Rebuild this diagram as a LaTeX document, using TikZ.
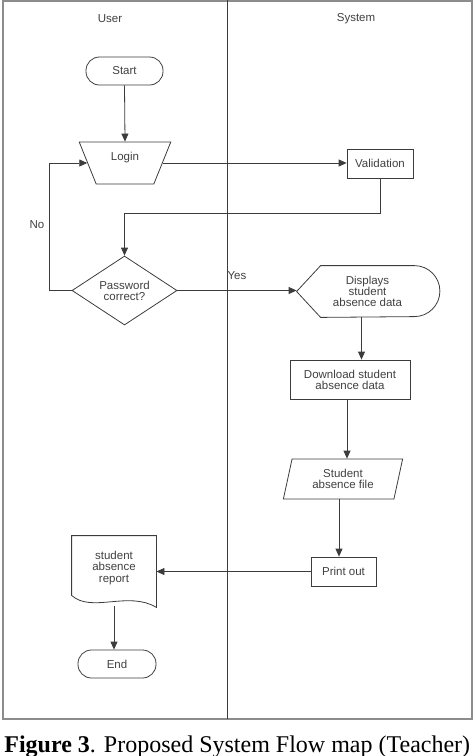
\documentclass[tikz,border=0pt]{standalone}
\usepackage{fontspec}
\newfontfamily\flowfont{Liberation Sans}
\newfontfamily\capfont{Liberation Serif}
\usepackage{tikz}
\usetikzlibrary{arrows.meta,shapes.geometric}
\definecolor{linegray}{HTML}{3C3C3C}
\definecolor{textgray}{HTML}{404040}
\definecolor{framegray}{HTML}{8C8C8C}

\begin{document}
\begin{tikzpicture}[x=1pt, y=-1pt, line width=0.8pt, color=linegray,
  every node/.style={font=\flowfont\fontsize{11.5}{11.2}\selectfont, text=textgray, align=center, inner sep=1pt},
  terminal/.style={draw, rectangle, rounded corners=13.5pt, minimum width=77pt, minimum height=28pt},
  process/.style={draw, rectangle, minimum height=29pt},
  manual/.style={draw, trapezium, trapezium angle=70, shape border rotate=180, trapezium stretches=true, minimum width=92pt, minimum height=42pt},
  decision/.style={draw, diamond, aspect=1.52, minimum width=105pt, minimum height=69pt},
  datain/.style={draw, trapezium, trapezium left angle=76, trapezium right angle=104, trapezium stretches=true, minimum width=120pt, minimum height=40pt},
  arr/.style={-{Triangle[length=8pt,width=7pt]}}]
\useasboundingbox (0,0) rectangle (474,756);
%%%%% Lanes %%%%%
\draw[framegray, line width=2pt] (2.5,1) rectangle (472,719);
\draw (227,0) -- (227,719);
\node (userlbl) at (110,19) {User};
\node (syslbl) at (356,19) {System};
%%%%% Steps %%%%%
\node[terminal] (start) at (124.5,71) {Start};
\node[manual] (login) at (125,163) {\raisebox{14pt}{Login}};
\node[process, minimum width=66pt] (valid) at (380,163.5) {Validation};
\node[decision] (pass) at (124.5,290.5) {Password\\correct?};
\node[minimum width=141pt, minimum height=51pt] (disp) at (367.5,291.5) {Displays\\student\\absence data};
\draw (disp.west) -- ([xshift=24pt]disp.north west) -- ([xshift=-24pt]disp.north east)
  arc[start angle=90, end angle=-90, radius=25.5pt] -- ([xshift=24pt]disp.south west) -- cycle;
\node[process, minimum width=120pt, minimum height=39pt] (down) at (350,379.5) {Download student\\absence data};
\node[datain] (file) at (343,479) {Student\\absence file};
\node[process, minimum width=65pt] (print) at (343.5,571.5) {Print out};
\node[minimum width=84pt, minimum height=64pt] (report) at (114,568) {student\\absence\\report};
\draw (report.north west) -- (report.north east) -- ([yshift=-7pt]report.south east)
  .. controls +(-28,-17) and +(20,18) .. ([yshift=5pt]report.south west) -- cycle;
\node[terminal, minimum width=78pt] (end) at (117,664) {End};
%%%%% Flow %%%%%
\draw[arr] (start.south) -- (login.north);
\draw[arr] (login.east) -- (login.east -| valid.west);
\draw[arr] (valid.south) -- ++(0,35) -| (pass.north);
\draw[arr] (pass.west) -- ++(-22,0) |- (login.west);
\node (nolbl) at (37,225) {No};
\draw[arr] (pass.east) -- (pass.east -| disp.west);
\node (yeslbl) at (237,276) {Yes};
\draw[arr] ([xshift=-6pt]disp.south) -- ([xshift=-6pt]disp.south |- down.north);
\draw[arr] ([xshift=-3pt]down.south) -- ([xshift=-3pt]down.south |- file.north);
\draw[arr] ([xshift=-4pt]file.south) -- ([xshift=-4pt]file.south |- print.north);
\draw[arr] (print.west) -- (print.west -| report.east);
\draw[arr] ([yshift=-6pt]report.south) -- (report.south |- end.north);
%%%%% Caption %%%%%
\node[anchor=base west, font=\capfont\fontsize{24}{26}\selectfont, text=black, inner sep=0pt] (caption) at (4,752) {\textbf{Figure 3}. Proposed System Flow map (Teacher)};
\end{tikzpicture}
\end{document}
